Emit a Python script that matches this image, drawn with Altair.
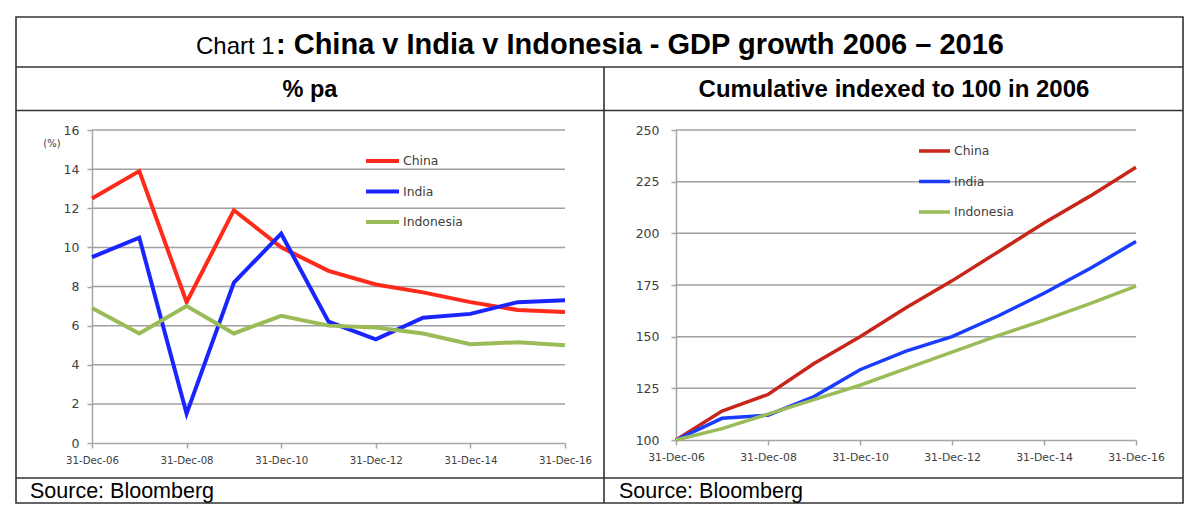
import altair as alt
import pandas as pd

# ---- data -------------------------------------------------------------
years = list(range(2006, 2017))
countries = ["China", "India", "Indonesia"]

# annual GDP growth, % pa
china_pa = [12.5, 13.9, 7.2, 11.9, 10.0, 8.8, 8.1, 7.7, 7.2, 6.8, 6.7]
india_pa = [9.5, 10.5, 1.5, 8.2, 10.7, 6.2, 5.3, 6.4, 6.6, 7.2, 7.3]
indonesia_pa = [6.9, 5.6, 7.0, 5.6, 6.5, 6.0, 5.9, 5.6, 5.05, 5.15, 5.0]

# cumulative growth, 2006 = 100
china_idx = [100, 114, 122, 137, 150, 164, 177, 191, 205, 218, 232]
india_idx = [100, 110.5, 112, 121, 134, 143, 150, 160, 171, 183, 196]
indonesia_idx = [100, 105.5, 112.5, 119.5, 126.5, 134.5, 142.5, 150.5, 158, 166, 174.5]

x_ticks = [2006, 2008, 2010, 2012, 2014, 2016]
pa_ticks = [0, 2, 4, 6, 8, 10, 12, 14, 16]
idx_ticks = [100, 125, 150, 175, 200, 225, 250]

left_colors = ["#ff2a1a", "#1a24ff", "#9bbb59"]
right_colors = ["#c8261a", "#1a3cff", "#9bbb59"]


def to_long(series):
    rows = []
    for name, vals in zip(countries, series):
        for yr, v in zip(years, vals):
            rows.append({"year": yr, "country": name, "value": v})
    return pd.DataFrame(rows)


pa_df = to_long([china_pa, india_pa, indonesia_pa])
idx_df = to_long([china_idx, india_idx, indonesia_idx])

W, H = 1200, 524
LABEL_FONT = "DejaVu Sans"
AXIS_GREY = "#a6a6a6"
GRID_GREY = "#a0a0a0"
TEXT_GREY = "#404040"
BORDER = "#333333"
HEAD_FONT = "Liberation Sans, Arial, Helvetica, sans-serif"


def x_axis(offset, size, pad):
    return alt.Axis(
        orient="bottom", offset=offset, values=x_ticks, title=None, grid=False,
        format="d", labelExpr="'31-Dec-' + slice(toString(datum.value), 2)",
        labelFont=LABEL_FONT, labelFontSize=size, labelColor=TEXT_GREY,
        labelPadding=pad, tickSize=5, tickColor=AXIS_GREY, tickWidth=1.5,
        domainColor=AXIS_GREY, domainWidth=1.5, labelOverlap=False,
        labelFlush=False,
    )


def y_axis(offset, ticks, pad):
    return alt.Axis(
        orient="left", offset=offset, values=ticks, title=None, grid=False,
        labelFont=LABEL_FONT, labelFontSize=12.5, labelColor=TEXT_GREY,
        labelPadding=pad, tickSize=5, tickColor=AXIS_GREY, tickWidth=1.5,
        domainColor=AXIS_GREY, domainWidth=1.5, labelOverlap=False,
        labelFlush=False,
    )


def panel(df, ticks, x_range, y_range, y_domain, colors, x_off, y_off, y_pad,
          x_size, x_pad, stroke_w, legend_xy, symbol_len):
    sx = alt.Scale(domain=[2006, 2016], range=x_range, nice=False, zero=False)
    sy = alt.Scale(domain=y_domain, range=y_range, nice=False, zero=False)
    xa = x_axis(x_off, x_size, x_pad)
    ya = y_axis(y_off, ticks, y_pad)

    grid_df = pd.DataFrame({"v": ticks[1:], "x0": 2006, "x1": 2016})
    grid = alt.Chart(grid_df).mark_rule(color=GRID_GREY, strokeWidth=1.5).encode(
        x=alt.X("x0:Q", scale=sx, axis=xa),
        x2="x1:Q",
        y=alt.Y("v:Q", scale=sy, axis=ya),
    )
    lines = alt.Chart(df).mark_line(strokeWidth=stroke_w).encode(
        x=alt.X("year:Q", scale=sx, axis=xa),
        y=alt.Y("value:Q", scale=sy, axis=ya),
        color=alt.Color(
            "country:N",
            scale=alt.Scale(domain=countries, range=colors),
            legend=alt.Legend(
                title=None, orient="none", legendX=legend_xy[0], legendY=legend_xy[1],
                symbolType="stroke", symbolStrokeWidth=stroke_w,
                symbolSize=symbol_len ** 2, clipHeight=30, rowPadding=0.5,
                labelFont=LABEL_FONT, labelFontSize=12.4, labelColor=TEXT_GREY,
                labelOffset=2, padding=0,
            ),
        ),
        order="year:Q",
    )
    return alt.layer(grid, lines)


left = panel(pa_df, pa_ticks, [92, 565], [443, 130], [0, 16], left_colors,
             x_off=-(H - 443), y_off=-92, y_pad=8, x_size=10.2, x_pad=7,
             stroke_w=4, legend_xy=(364, 146), symbol_len=33)
right = panel(idx_df, idx_ticks, [676, 1136], [440, 130], [100, 250], right_colors,
              x_off=-(H - 440), y_off=-676, y_pad=12, x_size=10.9, x_pad=6,
              stroke_w=3.5, legend_xy=(917, 136), symbol_len=31)

# ---- table frame --------------------------------------------------------
frame = alt.Chart(pd.DataFrame({"k": [0]})).mark_rect(
    fill=None, stroke=BORDER, strokeWidth=1.6
).encode(x=alt.value(16), x2=alt.value(1183), y=alt.value(17), y2=alt.value(503))


def hline(y):
    return alt.Chart(pd.DataFrame({"k": [0]})).mark_rule(
        color=BORDER, strokeWidth=1.6
    ).encode(x=alt.value(16), x2=alt.value(1183), y=alt.value(y))


divider = alt.Chart(pd.DataFrame({"k": [0]})).mark_rule(
    color=BORDER, strokeWidth=1.6
).encode(x=alt.value(604), y=alt.value(67), y2=alt.value(503))


def label(text, x, y, size, weight="normal", align="left", font=HEAD_FONT,
          color="#000000", baseline="alphabetic"):
    return alt.Chart(pd.DataFrame({"k": [0]})).mark_text(
        text=text, font=font, fontSize=size, fontWeight=weight, align=align,
        baseline=baseline, color=color,
    ).encode(x=alt.value(x), y=alt.value(y))


texts = [
    label("Chart 1", 196, 54, 24),
    label(": China v India v Indonesia - GDP growth 2006 \u2013 2016", 276, 54, 29, "bold"),
    label("% pa", 310, 97, 23.5, "bold", "center"),
    label("Cumulative indexed to 100 in 2006", 894, 97, 24, "bold", "center"),
    label("Source: Bloomberg", 30, 498, 21.5),
    label("Source: Bloomberg", 619, 498, 21.5),
    label("(%)", 52, 144, 10, font=LABEL_FONT, color=TEXT_GREY, align="center",
          baseline="middle"),
]

chart = alt.layer(
    frame, hline(67), hline(110.5), hline(478), divider, left, right, *texts
).resolve_scale(
    x="independent", y="independent", color="independent"
).resolve_axis(
    x="independent", y="independent"
).resolve_legend(
    color="independent"
).properties(
    width=W, height=H, padding=0, autosize=alt.AutoSizeParams(type="none"),
    background="#ffffff",
).configure_view(stroke=None)

chart.save("out.html", embed_options={"renderer": "svg", "actions": False})
